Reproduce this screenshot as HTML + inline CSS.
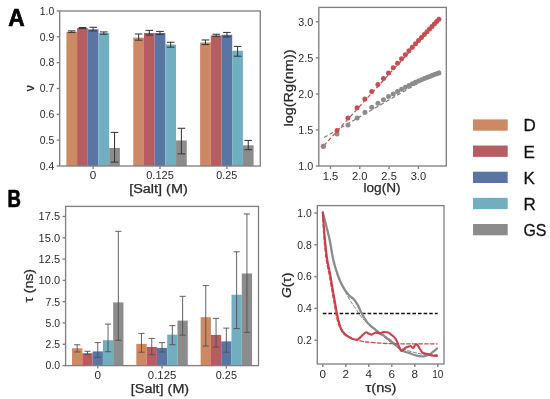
<!DOCTYPE html>
<html><head><meta charset="utf-8"><style>
html,body{margin:0;padding:0;background:#fff;}
svg{display:block;font-family:"Liberation Sans",sans-serif;filter:blur(0.3px);}
</style></head><body>
<svg width="550" height="399" viewBox="0 0 550 399">
<rect width="550" height="399" fill="#fff"/>
<g>
<rect x="66.39" y="31.80" width="10.70" height="134.20" fill="#cc8963"/>
<rect x="77.09" y="28.05" width="10.70" height="137.95" fill="#b55d60"/>
<rect x="87.78" y="29.34" width="10.70" height="136.66" fill="#5875a4"/>
<rect x="98.48" y="33.09" width="10.70" height="132.91" fill="#71aec0"/>
<rect x="109.18" y="147.92" width="10.70" height="18.08" fill="#8c8c8c"/>
<rect x="133.25" y="37.61" width="10.70" height="128.39" fill="#cc8963"/>
<rect x="143.95" y="32.96" width="10.70" height="133.04" fill="#b55d60"/>
<rect x="154.65" y="32.96" width="10.70" height="133.04" fill="#5875a4"/>
<rect x="165.35" y="44.58" width="10.70" height="121.42" fill="#71aec0"/>
<rect x="176.05" y="140.43" width="10.70" height="25.57" fill="#8c8c8c"/>
<rect x="200.12" y="42.52" width="10.70" height="123.48" fill="#cc8963"/>
<rect x="210.82" y="35.54" width="10.70" height="130.46" fill="#b55d60"/>
<rect x="221.52" y="34.77" width="10.70" height="131.23" fill="#5875a4"/>
<rect x="232.22" y="50.78" width="10.70" height="115.22" fill="#71aec0"/>
<rect x="242.91" y="145.33" width="10.70" height="20.67" fill="#8c8c8c"/>
<line x1="71.74" y1="30.89" x2="71.74" y2="32.44" stroke="#383838" stroke-width="1.05"/>
<line x1="67.94" y1="30.89" x2="75.54" y2="30.89" stroke="#383838" stroke-width="1.05"/>
<line x1="67.94" y1="32.44" x2="75.54" y2="32.44" stroke="#383838" stroke-width="1.05"/>
<line x1="82.43" y1="27.53" x2="82.43" y2="28.57" stroke="#383838" stroke-width="1.05"/>
<line x1="78.63" y1="27.53" x2="86.23" y2="27.53" stroke="#383838" stroke-width="1.05"/>
<line x1="78.63" y1="28.57" x2="86.23" y2="28.57" stroke="#383838" stroke-width="1.05"/>
<line x1="93.13" y1="27.27" x2="93.13" y2="30.89" stroke="#383838" stroke-width="1.05"/>
<line x1="89.33" y1="27.27" x2="96.93" y2="27.27" stroke="#383838" stroke-width="1.05"/>
<line x1="89.33" y1="30.89" x2="96.93" y2="30.89" stroke="#383838" stroke-width="1.05"/>
<line x1="103.83" y1="31.92" x2="103.83" y2="34.25" stroke="#383838" stroke-width="1.05"/>
<line x1="100.03" y1="31.92" x2="107.63" y2="31.92" stroke="#383838" stroke-width="1.05"/>
<line x1="100.03" y1="34.25" x2="107.63" y2="34.25" stroke="#383838" stroke-width="1.05"/>
<line x1="114.53" y1="132.42" x2="114.53" y2="162.12" stroke="#383838" stroke-width="1.05"/>
<line x1="110.73" y1="132.42" x2="118.33" y2="132.42" stroke="#383838" stroke-width="1.05"/>
<line x1="110.73" y1="162.12" x2="118.33" y2="162.12" stroke="#383838" stroke-width="1.05"/>
<line x1="138.60" y1="33.99" x2="138.60" y2="40.19" stroke="#383838" stroke-width="1.05"/>
<line x1="134.80" y1="33.99" x2="142.40" y2="33.99" stroke="#383838" stroke-width="1.05"/>
<line x1="134.80" y1="40.19" x2="142.40" y2="40.19" stroke="#383838" stroke-width="1.05"/>
<line x1="149.30" y1="30.37" x2="149.30" y2="35.02" stroke="#383838" stroke-width="1.05"/>
<line x1="145.50" y1="30.37" x2="153.10" y2="30.37" stroke="#383838" stroke-width="1.05"/>
<line x1="145.50" y1="35.02" x2="153.10" y2="35.02" stroke="#383838" stroke-width="1.05"/>
<line x1="160.00" y1="31.41" x2="160.00" y2="34.51" stroke="#383838" stroke-width="1.05"/>
<line x1="156.20" y1="31.41" x2="163.80" y2="31.41" stroke="#383838" stroke-width="1.05"/>
<line x1="156.20" y1="34.51" x2="163.80" y2="34.51" stroke="#383838" stroke-width="1.05"/>
<line x1="170.70" y1="42.26" x2="170.70" y2="47.17" stroke="#383838" stroke-width="1.05"/>
<line x1="166.90" y1="42.26" x2="174.50" y2="42.26" stroke="#383838" stroke-width="1.05"/>
<line x1="166.90" y1="47.17" x2="174.50" y2="47.17" stroke="#383838" stroke-width="1.05"/>
<line x1="181.40" y1="128.28" x2="181.40" y2="153.86" stroke="#383838" stroke-width="1.05"/>
<line x1="177.60" y1="128.28" x2="185.20" y2="128.28" stroke="#383838" stroke-width="1.05"/>
<line x1="177.60" y1="153.86" x2="185.20" y2="153.86" stroke="#383838" stroke-width="1.05"/>
<line x1="205.47" y1="39.93" x2="205.47" y2="44.58" stroke="#383838" stroke-width="1.05"/>
<line x1="201.67" y1="39.93" x2="209.27" y2="39.93" stroke="#383838" stroke-width="1.05"/>
<line x1="201.67" y1="44.58" x2="209.27" y2="44.58" stroke="#383838" stroke-width="1.05"/>
<line x1="216.17" y1="34.25" x2="216.17" y2="36.32" stroke="#383838" stroke-width="1.05"/>
<line x1="212.37" y1="34.25" x2="219.97" y2="34.25" stroke="#383838" stroke-width="1.05"/>
<line x1="212.37" y1="36.32" x2="219.97" y2="36.32" stroke="#383838" stroke-width="1.05"/>
<line x1="226.87" y1="32.44" x2="226.87" y2="36.83" stroke="#383838" stroke-width="1.05"/>
<line x1="223.07" y1="32.44" x2="230.67" y2="32.44" stroke="#383838" stroke-width="1.05"/>
<line x1="223.07" y1="36.83" x2="230.67" y2="36.83" stroke="#383838" stroke-width="1.05"/>
<line x1="237.57" y1="46.39" x2="237.57" y2="56.21" stroke="#383838" stroke-width="1.05"/>
<line x1="233.77" y1="46.39" x2="241.37" y2="46.39" stroke="#383838" stroke-width="1.05"/>
<line x1="233.77" y1="56.21" x2="241.37" y2="56.21" stroke="#383838" stroke-width="1.05"/>
<line x1="248.26" y1="140.43" x2="248.26" y2="149.72" stroke="#383838" stroke-width="1.05"/>
<line x1="244.46" y1="140.43" x2="252.06" y2="140.43" stroke="#383838" stroke-width="1.05"/>
<line x1="244.46" y1="149.72" x2="252.06" y2="149.72" stroke="#383838" stroke-width="1.05"/>
<rect x="59.70" y="11.00" width="200.60" height="155.00" fill="none" stroke="#808080" stroke-width="1.35"/>
<line x1="56.70" y1="166.00" x2="59.70" y2="166.00" stroke="#808080" stroke-width="1.35"/>
<text x="54.20" y="169.80" font-size="10.5" text-anchor="end" fill="#2a2a2a" textLength="14.5" lengthAdjust="spacingAndGlyphs">0.4</text>
<line x1="56.70" y1="140.17" x2="59.70" y2="140.17" stroke="#808080" stroke-width="1.35"/>
<text x="54.20" y="143.97" font-size="10.5" text-anchor="end" fill="#2a2a2a" textLength="14.5" lengthAdjust="spacingAndGlyphs">0.5</text>
<line x1="56.70" y1="114.33" x2="59.70" y2="114.33" stroke="#808080" stroke-width="1.35"/>
<text x="54.20" y="118.13" font-size="10.5" text-anchor="end" fill="#2a2a2a" textLength="14.5" lengthAdjust="spacingAndGlyphs">0.6</text>
<line x1="56.70" y1="88.50" x2="59.70" y2="88.50" stroke="#808080" stroke-width="1.35"/>
<text x="54.20" y="92.30" font-size="10.5" text-anchor="end" fill="#2a2a2a" textLength="14.5" lengthAdjust="spacingAndGlyphs">0.7</text>
<line x1="56.70" y1="62.67" x2="59.70" y2="62.67" stroke="#808080" stroke-width="1.35"/>
<text x="54.20" y="66.47" font-size="10.5" text-anchor="end" fill="#2a2a2a" textLength="14.5" lengthAdjust="spacingAndGlyphs">0.8</text>
<line x1="56.70" y1="36.83" x2="59.70" y2="36.83" stroke="#808080" stroke-width="1.35"/>
<text x="54.20" y="40.63" font-size="10.5" text-anchor="end" fill="#2a2a2a" textLength="14.5" lengthAdjust="spacingAndGlyphs">0.9</text>
<line x1="56.70" y1="11.00" x2="59.70" y2="11.00" stroke="#808080" stroke-width="1.35"/>
<text x="54.20" y="14.80" font-size="10.5" text-anchor="end" fill="#2a2a2a" textLength="14.5" lengthAdjust="spacingAndGlyphs">1.0</text>
<line x1="93.13" y1="166.00" x2="93.13" y2="169.00" stroke="#808080" stroke-width="1.35"/>
<text x="93.13" y="179.30" font-size="10.5" text-anchor="middle" fill="#2a2a2a" textLength="6.5" lengthAdjust="spacingAndGlyphs">0</text>
<line x1="160.00" y1="166.00" x2="160.00" y2="169.00" stroke="#808080" stroke-width="1.35"/>
<text x="160.00" y="179.30" font-size="10.5" text-anchor="middle" fill="#2a2a2a" textLength="27.6" lengthAdjust="spacingAndGlyphs">0.125</text>
<line x1="226.87" y1="166.00" x2="226.87" y2="169.00" stroke="#808080" stroke-width="1.35"/>
<text x="226.87" y="179.30" font-size="10.5" text-anchor="middle" fill="#2a2a2a" textLength="21" lengthAdjust="spacingAndGlyphs">0.25</text>
<text x="158.50" y="192.60" font-size="12.3" text-anchor="middle" fill="#2a2a2a" textLength="58.6" lengthAdjust="spacingAndGlyphs" stroke="#262626" stroke-width="0.25">[Salt] (M)</text>
<text x="34.00" y="88.30" font-size="12" text-anchor="middle" fill="#2a2a2a" transform="rotate(-90 34 88.3)" stroke="#262626" stroke-width="0.35">&#957;</text>
</g>
<rect x="318.80" y="7.40" width="127.50" height="158.60" fill="none" stroke="#808080" stroke-width="1.35"/>
<line x1="324.00" y1="137.60" x2="439.50" y2="70.81" stroke="#7a7a7a" stroke-width="1.2" stroke-dasharray="4 2.5"/>
<line x1="323.80" y1="145.60" x2="439.50" y2="19.00" stroke="#d0454f" stroke-width="1.2" stroke-dasharray="4 2.5"/>
<circle cx="337.03" cy="134.09" r="2.5" fill="#8c8c8c"/>
<circle cx="347.96" cy="125.01" r="2.5" fill="#8c8c8c"/>
<circle cx="357.07" cy="117.91" r="2.5" fill="#8c8c8c"/>
<circle cx="364.90" cy="112.14" r="2.5" fill="#8c8c8c"/>
<circle cx="371.77" cy="107.33" r="2.5" fill="#8c8c8c"/>
<circle cx="377.91" cy="103.24" r="2.5" fill="#8c8c8c"/>
<circle cx="383.46" cy="99.71" r="2.5" fill="#8c8c8c"/>
<circle cx="388.52" cy="96.62" r="2.5" fill="#8c8c8c"/>
<circle cx="393.19" cy="93.88" r="2.5" fill="#8c8c8c"/>
<circle cx="397.52" cy="91.45" r="2.5" fill="#8c8c8c"/>
<circle cx="401.56" cy="89.26" r="2.5" fill="#8c8c8c"/>
<circle cx="405.35" cy="87.28" r="2.5" fill="#8c8c8c"/>
<circle cx="408.93" cy="85.49" r="2.5" fill="#8c8c8c"/>
<circle cx="412.30" cy="83.85" r="2.5" fill="#8c8c8c"/>
<circle cx="415.51" cy="82.34" r="2.5" fill="#8c8c8c"/>
<circle cx="418.56" cy="80.96" r="2.5" fill="#8c8c8c"/>
<circle cx="421.48" cy="79.68" r="2.5" fill="#8c8c8c"/>
<circle cx="424.27" cy="78.50" r="2.5" fill="#8c8c8c"/>
<circle cx="426.94" cy="77.41" r="2.5" fill="#8c8c8c"/>
<circle cx="429.51" cy="76.39" r="2.5" fill="#8c8c8c"/>
<circle cx="431.99" cy="75.44" r="2.5" fill="#8c8c8c"/>
<circle cx="434.37" cy="74.56" r="2.5" fill="#8c8c8c"/>
<circle cx="436.68" cy="73.73" r="2.5" fill="#8c8c8c"/>
<circle cx="438.90" cy="72.95" r="2.5" fill="#8c8c8c"/>
<circle cx="323.33" cy="146.21" r="2.5" fill="#c44e52"/>
<circle cx="337.03" cy="130.48" r="2.5" fill="#c44e52"/>
<circle cx="347.96" cy="118.05" r="2.5" fill="#c44e52"/>
<circle cx="357.07" cy="107.78" r="2.5" fill="#c44e52"/>
<circle cx="364.90" cy="99.02" r="2.5" fill="#c44e52"/>
<circle cx="371.77" cy="91.38" r="2.5" fill="#c44e52"/>
<circle cx="377.91" cy="84.60" r="2.5" fill="#c44e52"/>
<circle cx="383.46" cy="78.50" r="2.5" fill="#c44e52"/>
<circle cx="388.52" cy="72.95" r="2.5" fill="#c44e52"/>
<circle cx="393.19" cy="67.86" r="2.5" fill="#c44e52"/>
<circle cx="397.52" cy="63.16" r="2.5" fill="#c44e52"/>
<circle cx="401.56" cy="58.79" r="2.5" fill="#c44e52"/>
<circle cx="405.35" cy="54.71" r="2.5" fill="#c44e52"/>
<circle cx="408.93" cy="50.87" r="2.5" fill="#c44e52"/>
<circle cx="412.30" cy="47.25" r="2.5" fill="#c44e52"/>
<circle cx="415.51" cy="43.83" r="2.5" fill="#c44e52"/>
<circle cx="418.56" cy="40.58" r="2.5" fill="#c44e52"/>
<circle cx="421.48" cy="37.49" r="2.5" fill="#c44e52"/>
<circle cx="424.27" cy="34.54" r="2.5" fill="#c44e52"/>
<circle cx="426.94" cy="31.71" r="2.5" fill="#c44e52"/>
<circle cx="429.51" cy="29.00" r="2.5" fill="#c44e52"/>
<circle cx="431.99" cy="26.40" r="2.5" fill="#c44e52"/>
<circle cx="434.37" cy="23.90" r="2.5" fill="#c44e52"/>
<circle cx="436.68" cy="21.49" r="2.5" fill="#c44e52"/>
<circle cx="438.90" cy="19.16" r="2.5" fill="#c44e52"/>
<circle cx="323.33" cy="146.31" r="2.5" fill="#8c8c8c"/>
<line x1="315.80" y1="166.00" x2="318.80" y2="166.00" stroke="#808080" stroke-width="1.35"/>
<text x="313.30" y="169.80" font-size="10.5" text-anchor="end" fill="#2a2a2a" textLength="15" lengthAdjust="spacingAndGlyphs">1.0</text>
<line x1="315.80" y1="129.95" x2="318.80" y2="129.95" stroke="#808080" stroke-width="1.35"/>
<text x="313.30" y="133.75" font-size="10.5" text-anchor="end" fill="#2a2a2a" textLength="15" lengthAdjust="spacingAndGlyphs">1.5</text>
<line x1="315.80" y1="93.90" x2="318.80" y2="93.90" stroke="#808080" stroke-width="1.35"/>
<text x="313.30" y="97.70" font-size="10.5" text-anchor="end" fill="#2a2a2a" textLength="15" lengthAdjust="spacingAndGlyphs">2.0</text>
<line x1="315.80" y1="57.85" x2="318.80" y2="57.85" stroke="#808080" stroke-width="1.35"/>
<text x="313.30" y="61.65" font-size="10.5" text-anchor="end" fill="#2a2a2a" textLength="15" lengthAdjust="spacingAndGlyphs">2.5</text>
<line x1="315.80" y1="21.80" x2="318.80" y2="21.80" stroke="#808080" stroke-width="1.35"/>
<text x="313.30" y="25.60" font-size="10.5" text-anchor="end" fill="#2a2a2a" textLength="15" lengthAdjust="spacingAndGlyphs">3.0</text>
<line x1="330.50" y1="166.00" x2="330.50" y2="169.00" stroke="#808080" stroke-width="1.35"/>
<text x="330.50" y="179.80" font-size="10.5" text-anchor="middle" fill="#2a2a2a" textLength="15.5" lengthAdjust="spacingAndGlyphs">1.5</text>
<line x1="359.80" y1="166.00" x2="359.80" y2="169.00" stroke="#808080" stroke-width="1.35"/>
<text x="359.80" y="179.80" font-size="10.5" text-anchor="middle" fill="#2a2a2a" textLength="15.5" lengthAdjust="spacingAndGlyphs">2.0</text>
<line x1="389.10" y1="166.00" x2="389.10" y2="169.00" stroke="#808080" stroke-width="1.35"/>
<text x="389.10" y="179.80" font-size="10.5" text-anchor="middle" fill="#2a2a2a" textLength="15.5" lengthAdjust="spacingAndGlyphs">2.5</text>
<line x1="418.40" y1="166.00" x2="418.40" y2="169.00" stroke="#808080" stroke-width="1.35"/>
<text x="418.40" y="179.80" font-size="10.5" text-anchor="middle" fill="#2a2a2a" textLength="15.5" lengthAdjust="spacingAndGlyphs">3.0</text>
<text x="382.00" y="192.30" font-size="12.3" text-anchor="middle" fill="#2a2a2a" textLength="37" lengthAdjust="spacingAndGlyphs" stroke="#262626" stroke-width="0.25">log(N)</text>
<text x="292.60" y="88.00" font-size="12.3" text-anchor="middle" fill="#2a2a2a" textLength="77" lengthAdjust="spacingAndGlyphs" transform="rotate(-90 292.6 88)" stroke="#262626" stroke-width="0.25">log(Rg(nm))</text>
<rect x="473.00" y="119.40" width="34.70" height="11.30" fill="#cc8963"/>
<text x="523.40" y="131.40" font-size="17" text-anchor="start" fill="#111" stroke="#111" stroke-width="0.3">D</text>
<rect x="473.00" y="145.55" width="34.70" height="11.30" fill="#b55d60"/>
<text x="523.40" y="157.55" font-size="17" text-anchor="start" fill="#111" stroke="#111" stroke-width="0.3">E</text>
<rect x="473.00" y="171.70" width="34.70" height="11.30" fill="#5875a4"/>
<text x="523.40" y="183.70" font-size="17" text-anchor="start" fill="#111" stroke="#111" stroke-width="0.3">K</text>
<rect x="473.00" y="197.85" width="34.70" height="11.30" fill="#71aec0"/>
<text x="523.40" y="209.85" font-size="17" text-anchor="start" fill="#111" stroke="#111" stroke-width="0.3">R</text>
<rect x="473.00" y="224.00" width="34.70" height="11.30" fill="#8c8c8c"/>
<text x="523.40" y="236.00" font-size="17" text-anchor="start" fill="#111" textLength="23" lengthAdjust="spacingAndGlyphs" stroke="#111" stroke-width="0.3">GS</text>
<rect x="72.03" y="348.30" width="10.29" height="17.30" fill="#cc8963"/>
<rect x="82.32" y="353.20" width="10.29" height="12.40" fill="#b55d60"/>
<rect x="92.61" y="351.40" width="10.29" height="14.20" fill="#5875a4"/>
<rect x="102.89" y="340.21" width="10.29" height="25.39" fill="#71aec0"/>
<rect x="113.18" y="302.38" width="10.29" height="63.22" fill="#8c8c8c"/>
<rect x="136.33" y="343.87" width="10.29" height="21.73" fill="#cc8963"/>
<rect x="146.62" y="346.94" width="10.29" height="18.66" fill="#b55d60"/>
<rect x="156.91" y="347.88" width="10.29" height="17.72" fill="#5875a4"/>
<rect x="167.19" y="334.67" width="10.29" height="30.93" fill="#71aec0"/>
<rect x="177.48" y="320.61" width="10.29" height="44.99" fill="#8c8c8c"/>
<rect x="200.63" y="317.21" width="10.29" height="48.39" fill="#cc8963"/>
<rect x="210.92" y="334.93" width="10.29" height="30.67" fill="#b55d60"/>
<rect x="221.21" y="341.40" width="10.29" height="24.20" fill="#5875a4"/>
<rect x="231.49" y="294.71" width="10.29" height="70.89" fill="#71aec0"/>
<rect x="241.78" y="273.50" width="10.29" height="92.10" fill="#8c8c8c"/>
<line x1="77.17" y1="344.81" x2="77.17" y2="351.97" stroke="#505050" stroke-width="0.9"/>
<line x1="74.07" y1="344.81" x2="80.27" y2="344.81" stroke="#505050" stroke-width="0.9"/>
<line x1="74.07" y1="351.97" x2="80.27" y2="351.97" stroke="#505050" stroke-width="0.9"/>
<line x1="87.46" y1="351.29" x2="87.46" y2="354.52" stroke="#505050" stroke-width="0.9"/>
<line x1="84.36" y1="351.29" x2="90.56" y2="351.29" stroke="#505050" stroke-width="0.9"/>
<line x1="84.36" y1="354.52" x2="90.56" y2="354.52" stroke="#505050" stroke-width="0.9"/>
<line x1="97.75" y1="342.60" x2="97.75" y2="357.34" stroke="#505050" stroke-width="0.9"/>
<line x1="94.65" y1="342.60" x2="100.85" y2="342.60" stroke="#505050" stroke-width="0.9"/>
<line x1="94.65" y1="357.34" x2="100.85" y2="357.34" stroke="#505050" stroke-width="0.9"/>
<line x1="108.04" y1="324.11" x2="108.04" y2="351.71" stroke="#505050" stroke-width="0.9"/>
<line x1="104.94" y1="324.11" x2="111.14" y2="324.11" stroke="#505050" stroke-width="0.9"/>
<line x1="104.94" y1="351.71" x2="111.14" y2="351.71" stroke="#505050" stroke-width="0.9"/>
<line x1="118.33" y1="231.32" x2="118.33" y2="340.30" stroke="#505050" stroke-width="0.9"/>
<line x1="115.23" y1="231.32" x2="121.43" y2="231.32" stroke="#505050" stroke-width="0.9"/>
<line x1="115.23" y1="340.30" x2="121.43" y2="340.30" stroke="#505050" stroke-width="0.9"/>
<line x1="141.47" y1="333.39" x2="141.47" y2="352.22" stroke="#505050" stroke-width="0.9"/>
<line x1="138.37" y1="333.39" x2="144.57" y2="333.39" stroke="#505050" stroke-width="0.9"/>
<line x1="138.37" y1="352.22" x2="144.57" y2="352.22" stroke="#505050" stroke-width="0.9"/>
<line x1="151.76" y1="338.42" x2="151.76" y2="354.69" stroke="#505050" stroke-width="0.9"/>
<line x1="148.66" y1="338.42" x2="154.86" y2="338.42" stroke="#505050" stroke-width="0.9"/>
<line x1="148.66" y1="354.69" x2="154.86" y2="354.69" stroke="#505050" stroke-width="0.9"/>
<line x1="162.05" y1="342.68" x2="162.05" y2="351.97" stroke="#505050" stroke-width="0.9"/>
<line x1="158.95" y1="342.68" x2="165.15" y2="342.68" stroke="#505050" stroke-width="0.9"/>
<line x1="158.95" y1="351.97" x2="165.15" y2="351.97" stroke="#505050" stroke-width="0.9"/>
<line x1="172.34" y1="325.64" x2="172.34" y2="344.73" stroke="#505050" stroke-width="0.9"/>
<line x1="169.24" y1="325.64" x2="175.44" y2="325.64" stroke="#505050" stroke-width="0.9"/>
<line x1="169.24" y1="344.73" x2="175.44" y2="344.73" stroke="#505050" stroke-width="0.9"/>
<line x1="182.63" y1="296.33" x2="182.63" y2="335.18" stroke="#505050" stroke-width="0.9"/>
<line x1="179.53" y1="296.33" x2="185.73" y2="296.33" stroke="#505050" stroke-width="0.9"/>
<line x1="179.53" y1="335.18" x2="185.73" y2="335.18" stroke="#505050" stroke-width="0.9"/>
<line x1="205.77" y1="285.60" x2="205.77" y2="346.09" stroke="#505050" stroke-width="0.9"/>
<line x1="202.67" y1="285.60" x2="208.87" y2="285.60" stroke="#505050" stroke-width="0.9"/>
<line x1="202.67" y1="346.09" x2="208.87" y2="346.09" stroke="#505050" stroke-width="0.9"/>
<line x1="216.06" y1="318.40" x2="216.06" y2="347.03" stroke="#505050" stroke-width="0.9"/>
<line x1="212.96" y1="318.40" x2="219.16" y2="318.40" stroke="#505050" stroke-width="0.9"/>
<line x1="212.96" y1="347.03" x2="219.16" y2="347.03" stroke="#505050" stroke-width="0.9"/>
<line x1="226.35" y1="328.11" x2="226.35" y2="352.22" stroke="#505050" stroke-width="0.9"/>
<line x1="223.25" y1="328.11" x2="229.45" y2="328.11" stroke="#505050" stroke-width="0.9"/>
<line x1="223.25" y1="352.22" x2="229.45" y2="352.22" stroke="#505050" stroke-width="0.9"/>
<line x1="236.64" y1="251.77" x2="236.64" y2="328.54" stroke="#505050" stroke-width="0.9"/>
<line x1="233.54" y1="251.77" x2="239.74" y2="251.77" stroke="#505050" stroke-width="0.9"/>
<line x1="233.54" y1="328.54" x2="239.74" y2="328.54" stroke="#505050" stroke-width="0.9"/>
<line x1="246.93" y1="213.94" x2="246.93" y2="332.37" stroke="#505050" stroke-width="0.9"/>
<line x1="243.83" y1="213.94" x2="250.03" y2="213.94" stroke="#505050" stroke-width="0.9"/>
<line x1="243.83" y1="332.37" x2="250.03" y2="332.37" stroke="#505050" stroke-width="0.9"/>
<rect x="65.60" y="206.40" width="192.90" height="159.20" fill="none" stroke="#808080" stroke-width="1.35"/>
<line x1="62.60" y1="365.60" x2="65.60" y2="365.60" stroke="#808080" stroke-width="1.35"/>
<text x="60.10" y="369.40" font-size="10.5" text-anchor="end" fill="#2a2a2a" textLength="14.5" lengthAdjust="spacingAndGlyphs">0.0</text>
<line x1="62.60" y1="344.30" x2="65.60" y2="344.30" stroke="#808080" stroke-width="1.35"/>
<text x="60.10" y="348.10" font-size="10.5" text-anchor="end" fill="#2a2a2a" textLength="14.5" lengthAdjust="spacingAndGlyphs">2.5</text>
<line x1="62.60" y1="323.00" x2="65.60" y2="323.00" stroke="#808080" stroke-width="1.35"/>
<text x="60.10" y="326.80" font-size="10.5" text-anchor="end" fill="#2a2a2a" textLength="14.5" lengthAdjust="spacingAndGlyphs">5.0</text>
<line x1="62.60" y1="301.70" x2="65.60" y2="301.70" stroke="#808080" stroke-width="1.35"/>
<text x="60.10" y="305.50" font-size="10.5" text-anchor="end" fill="#2a2a2a" textLength="14.5" lengthAdjust="spacingAndGlyphs">7.5</text>
<line x1="62.60" y1="280.40" x2="65.60" y2="280.40" stroke="#808080" stroke-width="1.35"/>
<text x="60.10" y="284.20" font-size="10.5" text-anchor="end" fill="#2a2a2a" textLength="21.5" lengthAdjust="spacingAndGlyphs">10.0</text>
<line x1="62.60" y1="259.10" x2="65.60" y2="259.10" stroke="#808080" stroke-width="1.35"/>
<text x="60.10" y="262.90" font-size="10.5" text-anchor="end" fill="#2a2a2a" textLength="21.5" lengthAdjust="spacingAndGlyphs">12.5</text>
<line x1="62.60" y1="237.80" x2="65.60" y2="237.80" stroke="#808080" stroke-width="1.35"/>
<text x="60.10" y="241.60" font-size="10.5" text-anchor="end" fill="#2a2a2a" textLength="21.5" lengthAdjust="spacingAndGlyphs">15.0</text>
<line x1="62.60" y1="216.50" x2="65.60" y2="216.50" stroke="#808080" stroke-width="1.35"/>
<text x="60.10" y="220.30" font-size="10.5" text-anchor="end" fill="#2a2a2a" textLength="21.5" lengthAdjust="spacingAndGlyphs">17.5</text>
<line x1="97.75" y1="365.60" x2="97.75" y2="368.60" stroke="#808080" stroke-width="1.35"/>
<text x="97.75" y="378.80" font-size="10.5" text-anchor="middle" fill="#2a2a2a" textLength="6.5" lengthAdjust="spacingAndGlyphs">0</text>
<line x1="162.05" y1="365.60" x2="162.05" y2="368.60" stroke="#808080" stroke-width="1.35"/>
<text x="162.05" y="378.80" font-size="10.5" text-anchor="middle" fill="#2a2a2a" textLength="28.5" lengthAdjust="spacingAndGlyphs">0.125</text>
<line x1="226.35" y1="365.60" x2="226.35" y2="368.60" stroke="#808080" stroke-width="1.35"/>
<text x="226.35" y="378.80" font-size="10.5" text-anchor="middle" fill="#2a2a2a" textLength="21.2" lengthAdjust="spacingAndGlyphs">0.25</text>
<text x="160.00" y="392.50" font-size="12.3" text-anchor="middle" fill="#2a2a2a" textLength="58.3" lengthAdjust="spacingAndGlyphs" stroke="#262626" stroke-width="0.25">[Salt] (M)</text>
<text x="33.30" y="285.80" font-size="12.3" text-anchor="middle" fill="#2a2a2a" textLength="33.5" lengthAdjust="spacingAndGlyphs" transform="rotate(-90 33.3 285.8)" stroke="#262626" stroke-width="0.25">&#964; (ns)</text>
<rect x="317.30" y="205.60" width="126.70" height="158.40" fill="none" stroke="#808080" stroke-width="1.35"/>
<line x1="322.80" y1="313.60" x2="437.80" y2="313.60" stroke="#111" stroke-width="1.5" stroke-dasharray="3.6 2"/>
<path d="M322.80,212.50 C323.83,216.75 327.27,230.08 329.00,238.00 C330.73,245.92 331.78,253.83 333.20,260.00 C334.62,266.17 336.03,270.78 337.50,275.00 C338.97,279.22 339.95,281.17 342.00,285.30 C344.05,289.43 347.63,296.08 349.80,299.80 C351.97,303.52 353.12,304.80 355.00,307.60 C356.88,310.40 359.27,314.23 361.10,316.60 C362.93,318.97 364.18,320.03 366.00,321.80 C367.82,323.57 368.90,324.58 372.00,327.20 C375.10,329.82 380.60,334.37 384.60,337.50 C388.60,340.63 392.20,343.85 396.00,346.00 C399.80,348.15 403.77,349.18 407.40,350.40 C411.03,351.62 414.53,352.57 417.80,353.30 C421.07,354.03 423.80,354.58 427.00,354.80 C430.20,355.02 435.33,354.63 437.00,354.60" fill="none" stroke="#7d7d7d" stroke-width="1.0" stroke-linejoin="round" stroke-linecap="round" stroke-dasharray="3.5 2"/>
<path d="M322.80,212.50 C323.88,216.77 327.55,230.18 329.30,238.10 C331.05,246.02 331.88,253.85 333.30,260.00 C334.72,266.15 336.30,270.73 337.80,275.00 C339.30,279.27 340.55,282.33 342.30,285.60 C344.05,288.87 346.42,292.35 348.30,294.60 C350.18,296.85 352.02,297.35 353.60,299.10 C355.18,300.85 356.48,302.78 357.80,305.10 C359.12,307.42 360.12,310.38 361.50,313.00 C362.88,315.62 364.58,318.65 366.10,320.80 C367.62,322.95 369.10,324.48 370.60,325.90 C372.10,327.32 373.60,328.07 375.10,329.30 C376.60,330.53 378.15,332.25 379.60,333.30 C381.05,334.35 382.37,334.65 383.80,335.60 C385.23,336.55 386.75,337.87 388.20,339.00 C389.65,340.13 391.05,341.23 392.50,342.40 C393.95,343.57 395.43,344.72 396.90,346.00 C398.37,347.28 399.87,349.10 401.30,350.10 C402.73,351.10 404.22,351.53 405.50,352.00 C406.78,352.47 407.75,352.48 409.00,352.90 C410.25,353.32 411.67,354.03 413.00,354.50 C414.33,354.97 415.67,355.40 417.00,355.70 C418.33,356.00 419.67,356.23 421.00,356.30 C422.33,356.37 423.65,356.40 425.00,356.10 C426.35,355.80 427.82,355.17 429.10,354.50 C430.38,353.83 431.40,353.08 432.70,352.10 C434.00,351.12 436.20,349.18 436.90,348.60" fill="none" stroke="#8c8c8c" stroke-width="2.3" stroke-linejoin="round" stroke-linecap="round"/>
<path d="M322.80,212.50 C323.00,216.75 323.42,230.08 324.00,238.00 C324.58,245.92 325.42,253.83 326.30,260.00 C327.18,266.17 328.38,270.00 329.30,275.00 C330.22,280.00 330.93,285.00 331.80,290.00 C332.67,295.00 333.58,300.00 334.50,305.00 C335.42,310.00 336.30,316.00 337.30,320.00 C338.30,324.00 339.22,326.50 340.50,329.00 C341.78,331.50 343.08,333.42 345.00,335.00 C346.92,336.58 349.52,337.52 352.00,338.50 C354.48,339.48 357.37,340.32 359.90,340.90 C362.43,341.48 363.90,341.63 367.20,342.00 C370.50,342.37 375.90,342.83 379.70,343.10 C383.50,343.37 386.62,343.48 390.00,343.60 C393.38,343.72 392.17,343.77 400.00,343.80 C407.83,343.83 430.83,343.80 437.00,343.80" fill="none" stroke="#d2464f" stroke-width="1.3" stroke-linejoin="round" stroke-linecap="round" stroke-dasharray="3.7 2.2"/>
<path d="M322.80,212.50 C323.13,216.77 324.05,230.18 324.80,238.10 C325.55,246.02 326.38,253.85 327.30,260.00 C328.22,266.15 329.38,269.98 330.30,275.00 C331.22,280.02 331.93,285.08 332.80,290.10 C333.67,295.12 334.82,301.20 335.50,305.10 C336.18,309.00 336.38,310.85 336.90,313.50 C337.42,316.15 337.87,318.37 338.60,321.00 C339.33,323.63 340.28,327.17 341.30,329.30 C342.32,331.43 343.38,332.48 344.70,333.80 C346.02,335.12 347.88,336.35 349.20,337.20 C350.52,338.05 351.47,338.47 352.60,338.90 C353.73,339.33 354.88,339.90 356.00,339.80 C357.12,339.70 358.18,339.12 359.30,338.30 C360.42,337.48 361.57,335.90 362.70,334.90 C363.83,333.90 365.07,332.48 366.10,332.30 C367.13,332.12 367.95,333.42 368.90,333.80 C369.85,334.18 370.77,334.78 371.80,334.60 C372.83,334.42 373.68,332.95 375.10,332.70 C376.52,332.45 378.85,333.20 380.30,333.10 C381.75,333.00 382.48,332.18 383.80,332.10 C385.12,332.02 387.03,332.22 388.20,332.60 C389.37,332.98 389.85,333.68 390.80,334.40 C391.75,335.12 392.95,335.90 393.90,336.90 C394.85,337.90 395.70,338.93 396.50,340.40 C397.30,341.87 397.97,344.00 398.70,345.70 C399.43,347.40 400.17,349.87 400.90,350.60 C401.63,351.33 402.37,350.55 403.10,350.10 C403.83,349.65 404.45,348.45 405.30,347.90 C406.15,347.35 407.32,347.12 408.20,346.80 C409.08,346.48 409.80,345.80 410.60,346.00 C411.40,346.20 412.13,348.27 413.00,348.00 C413.87,347.73 415.00,344.80 415.80,344.40 C416.60,344.00 417.00,344.67 417.80,345.60 C418.60,346.53 419.73,348.78 420.60,350.00 C421.47,351.22 421.98,352.28 423.00,352.90 C424.02,353.52 425.55,353.37 426.70,353.70 C427.85,354.03 428.83,354.57 429.90,354.90 C430.97,355.23 431.93,355.53 433.10,355.70 C434.27,355.87 436.27,355.87 436.90,355.90" fill="none" stroke="#c8404b" stroke-width="2.1" stroke-linejoin="round" stroke-linecap="round"/>
<line x1="314.30" y1="340.20" x2="317.30" y2="340.20" stroke="#808080" stroke-width="1.35"/>
<text x="311.80" y="344.00" font-size="10.5" text-anchor="end" fill="#2a2a2a" textLength="14.5" lengthAdjust="spacingAndGlyphs">0.2</text>
<line x1="314.30" y1="308.40" x2="317.30" y2="308.40" stroke="#808080" stroke-width="1.35"/>
<text x="311.80" y="312.20" font-size="10.5" text-anchor="end" fill="#2a2a2a" textLength="14.5" lengthAdjust="spacingAndGlyphs">0.4</text>
<line x1="314.30" y1="276.60" x2="317.30" y2="276.60" stroke="#808080" stroke-width="1.35"/>
<text x="311.80" y="280.40" font-size="10.5" text-anchor="end" fill="#2a2a2a" textLength="14.5" lengthAdjust="spacingAndGlyphs">0.6</text>
<line x1="314.30" y1="244.80" x2="317.30" y2="244.80" stroke="#808080" stroke-width="1.35"/>
<text x="311.80" y="248.60" font-size="10.5" text-anchor="end" fill="#2a2a2a" textLength="14.5" lengthAdjust="spacingAndGlyphs">0.8</text>
<line x1="314.30" y1="213.00" x2="317.30" y2="213.00" stroke="#808080" stroke-width="1.35"/>
<text x="311.80" y="216.80" font-size="10.5" text-anchor="end" fill="#2a2a2a" textLength="14.5" lengthAdjust="spacingAndGlyphs">1.0</text>
<line x1="322.80" y1="364.00" x2="322.80" y2="367.00" stroke="#808080" stroke-width="1.35"/>
<text x="322.80" y="377.60" font-size="10.5" text-anchor="middle" fill="#2a2a2a" textLength="6.5" lengthAdjust="spacingAndGlyphs">0</text>
<line x1="345.80" y1="364.00" x2="345.80" y2="367.00" stroke="#808080" stroke-width="1.35"/>
<text x="345.80" y="377.60" font-size="10.5" text-anchor="middle" fill="#2a2a2a" textLength="6.5" lengthAdjust="spacingAndGlyphs">2</text>
<line x1="368.80" y1="364.00" x2="368.80" y2="367.00" stroke="#808080" stroke-width="1.35"/>
<text x="368.80" y="377.60" font-size="10.5" text-anchor="middle" fill="#2a2a2a" textLength="6.5" lengthAdjust="spacingAndGlyphs">4</text>
<line x1="391.80" y1="364.00" x2="391.80" y2="367.00" stroke="#808080" stroke-width="1.35"/>
<text x="391.80" y="377.60" font-size="10.5" text-anchor="middle" fill="#2a2a2a" textLength="6.5" lengthAdjust="spacingAndGlyphs">6</text>
<line x1="414.80" y1="364.00" x2="414.80" y2="367.00" stroke="#808080" stroke-width="1.35"/>
<text x="414.80" y="377.60" font-size="10.5" text-anchor="middle" fill="#2a2a2a" textLength="6.5" lengthAdjust="spacingAndGlyphs">8</text>
<line x1="437.80" y1="364.00" x2="437.80" y2="367.00" stroke="#808080" stroke-width="1.35"/>
<text x="437.80" y="377.60" font-size="10.5" text-anchor="middle" fill="#2a2a2a" textLength="11.2" lengthAdjust="spacingAndGlyphs">10</text>
<text x="381.00" y="391.80" font-size="12.3" text-anchor="middle" fill="#2a2a2a" textLength="31" lengthAdjust="spacingAndGlyphs" stroke="#262626" stroke-width="0.25">&#964;(ns)</text>
<text x="290.60" y="285.30" font-size="12.3" text-anchor="middle" fill="#2a2a2a" textLength="25.6" lengthAdjust="spacingAndGlyphs" transform="rotate(-90 290.6 285.3)" stroke="#262626" stroke-width="0.25"><tspan font-style="italic">G</tspan>(&#964;)</text>
<text x="8.20" y="26.10" font-size="24.5" text-anchor="start" fill="#000" font-weight="bold" textLength="16.4" lengthAdjust="spacingAndGlyphs" stroke="#000" stroke-width="0.7">A</text>
<text x="7.60" y="207.10" font-size="23.5" text-anchor="start" fill="#000" font-weight="bold" textLength="13.4" lengthAdjust="spacingAndGlyphs" stroke="#000" stroke-width="0.7">B</text>
</svg></body></html>
